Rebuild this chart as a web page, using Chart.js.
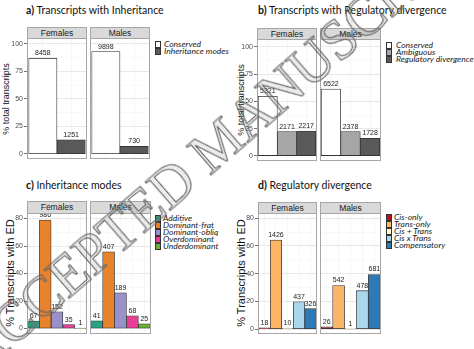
<!DOCTYPE html>
<html>
<head>
<meta charset="utf-8">
<script src="https://cdn.jsdelivr.net/npm/chart.js@4"></script>
<style>
    body { margin: 0; background: #fff; }
    #fig { position: relative; width: 474px; height: 349px; overflow: hidden; font-family: "Liberation Sans", Arial, sans-serif; }
    #fig div, #fig canvas { position: absolute; }
    .title { font-family: Lato, sans-serif; font-size: 10.5px; color: #111; white-space: nowrap; line-height: 12px; }
    .strip { background: #d9d9d9; border: 1px solid #a6a6a6; box-sizing: border-box; font-size: 8.5px; color: #1a1a1a; text-align: center; }
    .ylab { color: #111; white-space: nowrap; transform: translate(-50%, -50%) rotate(-90deg); }
    .legtxt { font-family: Lato, sans-serif; font-style: italic; font-size: 8.5px; color: #1a1a1a; white-space: nowrap; line-height: 7px; }
    .key { border: 1px solid #333; box-sizing: border-box; width: 6px; height: 7px; }
    #wm { position: absolute; left: 0; top: 0; pointer-events: none; }
</style>
</head>
<body>
<div id="fig"></div>
<script>
// a) Transcripts with Inheritance
const aCategories = ["Conserved", "Inheritance modes"];
const aFemales = [87.1, 12.9];
const aMales = [93.1, 6.9];
const aFemalesCounts = [8458, 1251];
const aMalesCounts = [9898, 730];
const aColors = ["#ffffff", "#595959"];
const aTicks = [0, 25, 50, 75, 100];

// b) Transcripts with Regulatory divergence
const bCategories = ["Conserved", "Ambiguous", "Regulatory divergence"];
const bFemales = [54.8, 22.4, 22.8];
const bMales = [61.4, 22.4, 16.3];
const bFemalesCounts = [5321, 2171, 2217];
const bMalesCounts = [6522, 2378, 1728];
const bColors = ["#ffffff", "#a6a6a6", "#595959"];
const bTicks = [0, 25, 50, 75, 100];

// c) Inheritance modes
const cCategories = ["Additive", "Dominant-frat", "Dominant-obliq", "Overdominant", "Underdominant"];
const cFemales = [5.4, 78.8, 12.2, 2.8, 0.1];
const cMales = [5.6, 55.8, 25.9, 9.3, 3.4];
const cFemalesCounts = [67, 986, 152, 35, 1];
const cMalesCounts = [41, 407, 189, 68, 25];
const cColors = ["#2aa384", "#e8822c", "#9a90cc", "#e83e96", "#6baf35"];
const cTicks = [0, 20, 40, 60, 80];

// d) Regulatory divergence
const dCategories = ["Cis-only", "Trans-only", "Cis + Trans", "Cis x Trans", "Compensatory"];
const dFemales = [0.8, 64.3, 0.45, 19.7, 14.7];
const dMales = [1.5, 31.4, 0.06, 27.7, 39.4];
const dFemalesCounts = [18, 1426, 10, 437, 326];
const dMalesCounts = [26, 542, 1, 478, 681];
const dColors = ["#b8121f", "#fbb567", "#ffffc8", "#a9d7ec", "#2c7bb6"];
const dTicks = [0, 20, 40, 60, 80];

const fig = document.getElementById("fig");
const PAD = 8;
const EXPAND = 0.06; // margen a cada lado del grupo de barras

function addDiv(cls, left, top, html, extra) {
    const d = document.createElement("div");
    d.className = cls;
    d.style.left = left + "px";
    d.style.top = top + "px";
    d.innerHTML = html;
    if (extra) Object.assign(d.style, extra);
    fig.appendChild(d);
    return d;
}

// numeros encima de las barras
const barLabels = {
    id: "barLabels",
    afterDatasetsDraw(chart, args, opts) {
        const ctx = chart.ctx;
        ctx.save();
        ctx.font = "7px 'Liberation Sans', Arial";
        ctx.fillStyle = "#222";
        ctx.textAlign = "center";
        ctx.textBaseline = "bottom";
        chart.getDatasetMeta(0).data.forEach((bar, i) => {
            ctx.fillText(opts.counts[i], bar.x, bar.y - 1.5);
        });
        ctx.restore();
    },
};

// borde del panel
const panelBorder = {
    id: "panelBorder",
    afterDraw(chart) {
        const a = chart.chartArea;
        const ctx = chart.ctx;
        ctx.save();
        ctx.strokeStyle = "#a6a6a6";
        ctx.lineWidth = 1;
        ctx.strokeRect(a.left + 0.5, a.top + 0.5, a.right - a.left - 1, a.bottom - a.top - 1);
        ctx.restore();
    },
};

function facet(p) {
    const axisW = p.showAxis ? 22 : 0;
    const cv = document.createElement("canvas");
    cv.width = p.width + axisW;
    cv.height = p.height + 2 * PAD;
    cv.style.left = (p.left - axisW) + "px";
    cv.style.top = (p.top - PAD) + "px";
    fig.appendChild(cv);

    addDiv("strip", p.left, p.stripTop, p.name, {
        width: p.width + "px",
        height: (p.top - p.stripTop + 1) + "px",
        lineHeight: (p.top - p.stripTop - 1) + "px",
    });

    const n = p.values.length;
    const isMajor = (v) => p.major.includes(v);
    new Chart(cv, {
        type: "bar",
        data: {
            datasets: [
                {
                    data: p.values.map((v, i) => ({ x: i + 1, y: v })),
                    backgroundColor: p.colors,
                    borderColor: "#333",
                    borderWidth: 0.8,
                    borderSkipped: false,
                    barThickness: p.width / (n + 2 * EXPAND),
                },
            ],
        },
        options: {
            responsive: false,
            animation: false,
            layout: { padding: { top: PAD, bottom: PAD, left: 0, right: 0 } },
            plugins: {
                legend: { display: false },
                tooltip: { enabled: false },
                barLabels: { counts: p.counts },
            },
            scales: {
                x: {
                    type: "linear",
                    bounds: "data",
                    offset: false,
                    min: 0.5 - EXPAND,
                    max: n + 0.5 + EXPAND,
                    ticks: { display: false },
                    afterBuildTicks: (s) => { s.ticks = p.values.map((v, i) => ({ value: i + 1 })); },
                    grid: { color: "#f0f0f0", lineWidth: 0.6, drawTicks: false, offset: false },
                    border: { display: false },
                    afterFit: (s) => { s.height = 0; },
                },
                y: {
                    min: p.yMin,
                    max: p.yMax,
                    ticks: {
                        display: p.showAxis,
                        stepSize: p.minor,
                        includeBounds: false,
                        padding: 1,
                        color: "#4d4d4d",
                        font: { size: 7, family: "'Liberation Sans', Arial" },
                        callback: (v) => (isMajor(v) ? v : ""),
                    },
                    grid: {
                        color: (c) => (isMajor(c.tick.value) ? "#e2e2e2" : "#f2f2f2"),
                        lineWidth: (c) => (isMajor(c.tick.value) ? 0.8 : 0.5),
                        drawTicks: p.showAxis,
                        tickLength: 3,
                        tickColor: (c) => (isMajor(c.tick.value) ? "#4d4d4d" : "rgba(0,0,0,0)"),
                    },
                    border: { display: false },
                    afterFit: (s) => { s.width = axisW; },
                },
            },
        },
        plugins: [barLabels, panelBorder],
    });
}

function panel(cfg) {
    addDiv("title", cfg.titleX, cfg.titleY, "<b>" + cfg.letter + ")</b> " + cfg.title);
    addDiv("ylab", cfg.ylabX, cfg.ylabY, cfg.ylab, { fontSize: cfg.ylabSize + "px" });
    const common = {
        top: cfg.top, height: cfg.height, stripTop: cfg.stripTop,
        yMin: cfg.yMin, yMax: cfg.yMax, major: cfg.ticks, minor: cfg.minor, colors: cfg.colors,
    };
    facet(Object.assign({ name: "Females", left: cfg.fLeft, width: cfg.fWidth, values: cfg.females, counts: cfg.femalesCounts, showAxis: true }, common));
    facet(Object.assign({ name: "Males", left: cfg.mLeft, width: cfg.mWidth, values: cfg.males, counts: cfg.malesCounts, showAxis: false }, common));
    cfg.categories.forEach((c, i) => {
        addDiv("key", cfg.legX, cfg.legY + i * 7, "", { background: cfg.colors[i] });
        addDiv("legtxt", cfg.legX + cfg.legGap, cfg.legY + i * 7, c);
    });
}

panel({
    letter: "a", title: "Transcripts with Inheritance", titleX: 26, titleY: 4,
    ylab: "% total transcripts", ylabX: 6, ylabY: 99, ylabSize: 9,
    fLeft: 27, fWidth: 60, mLeft: 90, mWidth: 60, top: 38, height: 121, stripTop: 27,
    yMin: -4.55, yMax: 105.45, ticks: aTicks, minor: 12.5,
    categories: aCategories, colors: aColors,
    females: aFemales, males: aMales, femalesCounts: aFemalesCounts, malesCounts: aMalesCounts,
    legX: 155, legY: 41, legGap: 9,
});

panel({
    letter: "b", title: "Transcripts with Regulatory divergence", titleX: 258, titleY: 4,
    ylab: "% total transcripts", ylabX: 241, ylabY: 100, ylabSize: 9,
    fLeft: 257, fWidth: 60, mLeft: 320, mWidth: 61, top: 39, height: 122, stripTop: 28,
    yMin: -4.6, yMax: 107.3, ticks: bTicks, minor: 12.5,
    categories: bCategories, colors: bColors,
    females: bFemales, males: bMales, femalesCounts: bFemalesCounts, malesCounts: bMalesCounts,
    legX: 386, legY: 42, legGap: 10,
});

panel({
    letter: "c", title: "Inheritance modes", titleX: 26, titleY: 179,
    ylab: "% Transcripts with ED", ylabX: 10, ylabY: 273, ylabSize: 11,
    fLeft: 27, fWidth: 60, mLeft: 90, mWidth: 61, top: 213, height: 121, stripTop: 201,
    yMin: -4, yMax: 84, ticks: cTicks, minor: 10,
    categories: cCategories, colors: cColors,
    females: cFemales, males: cMales, femalesCounts: cFemalesCounts, malesCounts: cMalesCounts,
    legX: 155, legY: 215, legGap: 8,
});

panel({
    letter: "d", title: "Regulatory divergence", titleX: 258, titleY: 179,
    ylab: "% Transcripts with ED", ylabX: 241, ylabY: 273, ylabSize: 11,
    fLeft: 258, fWidth: 59, mLeft: 320, mWidth: 61, top: 213, height: 121, stripTop: 202,
    yMin: -3.6, yMax: 83.8, ticks: dTicks, minor: 10,
    categories: dCategories, colors: dColors,
    females: dFemales, males: dMales, femalesCounts: dFemalesCounts, malesCounts: dMalesCounts,
    legX: 386, legY: 214, legGap: 8,
});

// marca de agua
const svgNS = "http://www.w3.org/2000/svg";
const wm = document.createElementNS(svgNS, "svg");
wm.setAttribute("id", "wm");
wm.setAttribute("width", 474);
wm.setAttribute("height", 349);
const t = document.createElementNS(svgNS, "text");
t.setAttribute("x", -19);
t.setAttribute("y", 375);
t.setAttribute("transform", "rotate(-41 -19 375)");
t.setAttribute("font-family", "Liberation Serif, DejaVu Serif, serif");
t.setAttribute("font-size", 56);
t.setAttribute("fill", "rgba(120,120,120,0.14)");
t.setAttribute("stroke", "#666");
t.setAttribute("stroke-width", 1.1);
t.textContent = "ACCEPTED MANUSCRIPT";
wm.appendChild(t);
fig.appendChild(wm);
</script>
</body>
</html>
